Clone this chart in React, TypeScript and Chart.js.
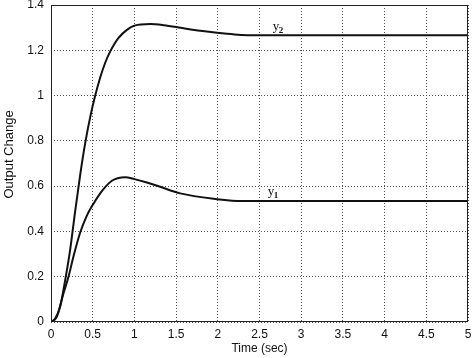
import React, { useEffect, useRef } from "react";
import { Chart, registerables } from "chart.js";

Chart.register(...registerables);

const timeY2 = [0, 0.05, 0.11, 0.17, 0.23, 0.29, 0.35, 0.41, 0.47, 0.53, 0.59, 0.65, 0.71, 0.76, 0.81, 0.91, 1.0, 1.19, 1.35, 1.59, 1.79, 1.99, 2.2, 2.5, 5];
const valY2 = [0, 0.015, 0.068, 0.185, 0.32, 0.49, 0.65, 0.79, 0.905, 1.0, 1.08, 1.145, 1.195, 1.228, 1.255, 1.29, 1.309, 1.316, 1.311, 1.297, 1.286, 1.277, 1.27, 1.266, 1.266];

const timeY1 = [0, 0.07, 0.15, 0.21, 0.27, 0.35, 0.43, 0.5, 0.59, 0.66, 0.73, 0.8, 0.89, 1.0, 1.15, 1.31, 1.55, 1.99, 2.17, 2.5, 5];
const valY1 = [0, 0.023, 0.127, 0.2, 0.29, 0.395, 0.47, 0.517, 0.568, 0.6, 0.624, 0.635, 0.639, 0.631, 0.616, 0.597, 0.568, 0.542, 0.536, 0.534, 0.534];

const curveNames = ["y1", "y2"];
const labelSubs = ["1", "2"];
const labelX = [2.6, 2.66];
const labelY = [0.559, 1.29];

const xTitle = "Time (sec)";
const yTitle = "Output Change";
const yTitleCenter = 0.74; // value on the y axis where the rotated title is centred

const FONT = "'Liberation Sans', Arial, sans-serif";

export default function App() {
  const ref = useRef<HTMLCanvasElement | null>(null);

  useEffect(() => {
    document.body.style.margin = "0";
    const canvas = ref.current!;
    const boxPlugin = {
      id: "box",
      afterDraw(chart: any) {
        const { ctx, chartArea, scales } = chart;
        ctx.save();
        ctx.strokeStyle = "#222";
        ctx.lineWidth = 1;
        ctx.strokeRect(chartArea.left + 0.5, chartArea.top + 0.5, chartArea.right - chartArea.left - 1, chartArea.bottom - chartArea.top - 1);
        // y-axis title
        ctx.translate(9, scales.y.getPixelForValue(yTitleCenter));
        ctx.rotate(-Math.PI / 2);
        ctx.fillStyle = "#111";
        ctx.font = "13px " + FONT;
        ctx.textAlign = "center";
        ctx.textBaseline = "middle";
        ctx.fillText(yTitle, 0, 0);
        ctx.restore();
      },
      afterDatasetsDraw(chart: any) {
        const { ctx, scales } = chart;
        ctx.save();
        ctx.fillStyle = "#111";
        ctx.textBaseline = "alphabetic";
        for (let i = 0; i < curveNames.length; i++) {
          const px = scales.x.getPixelForValue(labelX[i]);
          const py = scales.y.getPixelForValue(labelY[i]);
          ctx.font = "13px 'Liberation Serif', 'Times New Roman', serif";
          ctx.fillText("y", px, py);
          const w = ctx.measureText("y").width;
          ctx.font = "bold 9px 'Liberation Serif', 'Times New Roman', serif";
          ctx.fillText(labelSubs[i], px + w - 0.5, py + 3);
        }
        ctx.restore();
      },
    };

    const chart = new Chart(canvas, {
      type: "line",
      data: {
        datasets: [
          {
            label: curveNames[0],
            data: timeY1.map((t, i) => ({ x: t, y: valY1[i] })),
            borderColor: "#111",
            borderWidth: 2,
            pointRadius: 0,
            cubicInterpolationMode: "monotone",
          },
          {
            label: curveNames[1],
            data: timeY2.map((t, i) => ({ x: t, y: valY2[i] })),
            borderColor: "#111",
            borderWidth: 2,
            pointRadius: 0,
            cubicInterpolationMode: "monotone",
          },
        ],
      },
      options: {
        animation: false,
        responsive: false,
        maintainAspectRatio: false,
        layout: { padding: { left: 0, top: 5, right: 6, bottom: 2 } },
        plugins: { legend: { display: false }, tooltip: { enabled: false } },
        scales: {
          x: {
            type: "linear",
            min: 0,
            max: 5,
            afterFit(scale: any) {
              scale.height = 34;
              scale.paddingLeft = 0;
              scale.paddingRight = 0;
            },
            ticks: {
              stepSize: 0.5,
              color: "#111",
              font: { family: FONT, size: 12 },
              padding: 5,
              maxRotation: 0,
              callback: (v: any) => String(+Number(v).toFixed(2)),
            },
            grid: { color: "#555", lineWidth: 1, drawTicks: false } as any,
            border: { display: false, dash: [1, 2] } as any,
            title: { display: true, text: xTitle, color: "#111", font: { family: FONT, size: 12 }, padding: { top: 0, bottom: 0 } },
          },
          y: {
            type: "linear",
            min: 0,
            max: 1.4,
            afterFit(scale: any) {
              scale.width = 51;
              scale.paddingTop = 0;
              scale.paddingBottom = 0;
            },
            ticks: {
              stepSize: 0.2,
              color: "#111",
              font: { family: FONT, size: 12 },
              padding: 7,
              callback: (v: any) => String(+Number(v).toFixed(2)),
            },
            grid: { color: "#555", lineWidth: 1, drawTicks: false } as any,
            border: { display: false, dash: [1, 2] } as any,
            title: { display: false },
          },
        },
      } as any,
      plugins: [boxPlugin],
    });
    return () => chart.destroy();
  }, []);

  return (
    <div style={{ position: "absolute", left: 0, top: 0, width: 474, height: 358, background: "#fff" }}>
      <canvas ref={ref} width={474} height={358} style={{ width: 474, height: 358 }} />
    </div>
  );
}
